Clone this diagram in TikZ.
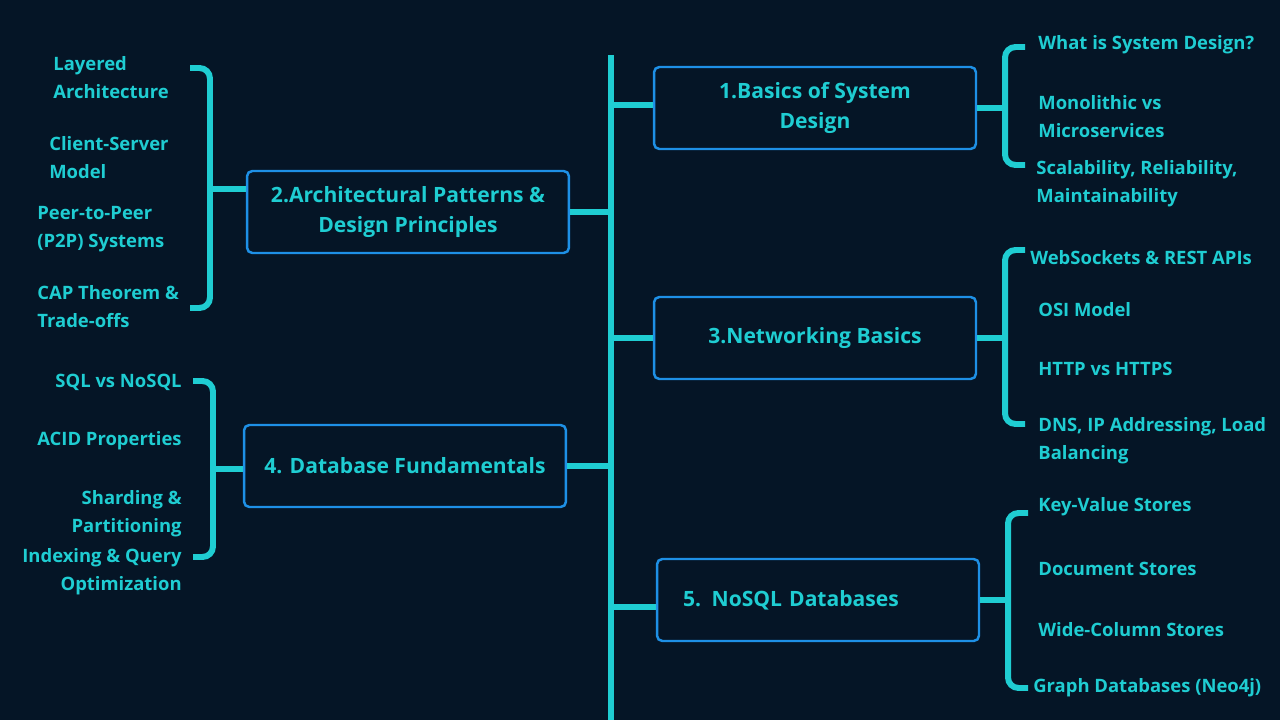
\documentclass[tikz,border=0pt]{standalone}
\usepackage{fontspec}
\setmainfont{Open Sans}
\definecolor{bgnavy}{HTML}{051526}
\definecolor{tealline}{HTML}{1FCDD2}
\definecolor{boxblue}{HTML}{1E90E6}
\tikzset{
  topic/.style={draw=boxblue, line width=1.4pt, rounded corners=3pt, fill=bgnavy,
    minimum width=6.44cm, minimum height=1.64cm, align=center, text=tealline,
    font=\bfseries\fontsize{12}{17}\selectfont},
  leaf/.style={text=tealline, font=\bfseries\fontsize{10.5}{16}\selectfont, inner sep=0pt},
  link/.style={tealline, line width=3.4pt},
  brace/.style={tealline, line width=3.4pt, rounded corners=6pt}
}
\begin{document}
\begin{tikzpicture}[x=0.02cm, y=-0.02cm]
  \fill[bgnavy] (0,0) rectangle (1280,720);
  % trunk
  \coordinate (top) at (611,55);
  \coordinate (bot) at (611,720);
  \draw[link] (top) -- (bot);

  % topic boxes
  \node[topic] (basics) at (815,108) {1.Basics of System\\Design};
  \node[topic] (arch) at (408,212) {2.Architectural Patterns \&\\Design Principles};
  \node[topic] (net) at (815,338) {3.Networking Basics};
  \node[topic] (db) at (405,466) {4. Database Fundamentals};
  \node[topic, text width=6cm, align=left] (nosql) at (818,600) {\hspace*{0.3cm}5. NoSQL Databases};

  % joints on trunk
  \foreach \b/\y in {basics/105, arch/212, net/338, db/466, nosql/607}
    \coordinate (j-\b) at (611,\y);
  \draw[link] (j-basics) -- (basics.west |- j-basics);
  \draw[link] (j-arch) -- (arch.east |- j-arch);
  \draw[link] (j-net) -- (net.west);
  \draw[link] (j-db) -- (db.east);
  \draw[link] (j-nosql) -- (nosql.west |- j-nosql);

  % right brackets
  \draw[brace] (1025,47) -- (1005,47) -- (1005,165) -- (1025,165);
  \coordinate (b1) at (1005,108);
  \draw[link] (basics.east |- b1) -- (b1);
  \draw[brace] (1025,250) -- (1005,250) -- (1005,424) -- (1025,424);
  \coordinate (b3) at (1005,338);
  \draw[link] (net.east) -- (b3);
  \draw[brace] (1028,513) -- (1008,513) -- (1008,688) -- (1028,688);
  \coordinate (b5) at (1008,600);
  \draw[link] (nosql.east |- b5) -- (b5);

  % left brackets
  \draw[brace] (190,68) -- (210,68) -- (210,308) -- (190,308);
  \coordinate (b2) at (210,189);
  \draw[link] (b2) -- (arch.west |- b2);
  \draw[brace] (193,381) -- (213,381) -- (213,557) -- (193,557);
  \coordinate (b4) at (213,469);
  \draw[link] (b4) -- (db.west |- b4);

  % leaves of 1
  \node[leaf, anchor=west] (l11) at (1038,45) {What is System Design?};
  \node[leaf, anchor=west, align=left] (l12) at (1038,117) {Monolithic vs\\Microservices};
  \node[leaf, anchor=west, align=left] (l13) at (1036,184) {Scalability, Reliability,\\Maintainability};
  % leaves of 2
  \node[leaf, anchor=west, align=left] (l21) at (53,78) {Layered\\Architecture};
  \node[leaf, anchor=west, align=left] (l22) at (49,158) {Client-Server\\Model};
  \node[leaf, anchor=west, align=left] (l23) at (37,229) {Peer-to-Peer\\(P2P) Systems};
  \node[leaf, anchor=west, align=left] (l24) at (37,307) {CAP Theorem \&\\Trade-offs};
  % leaves of 3
  \node[leaf, anchor=west] (l31) at (1030,258) {WebSockets \& REST APIs};
  \node[leaf, anchor=west] (l32) at (1038,310) {OSI Model};
  \node[leaf, anchor=west] (l33) at (1038,369) {HTTP vs HTTPS};
  \node[leaf, anchor=west, align=left] (l34) at (1038,441) {DNS, IP Addressing, Load\\Balancing};
  % leaves of 4
  \node[leaf, anchor=east] (l41) at (182,382) {SQL vs NoSQL};
  \node[leaf, anchor=east] (l42) at (182,441) {ACID Properties};
  \node[leaf, anchor=east, align=right] (l43) at (182,514) {Sharding \&\\Partitioning};
  \node[leaf, anchor=east, align=right] (l44) at (182,572) {Indexing \& Query\\Optimization};
  % leaves of 5
  \node[leaf, anchor=west] (l51) at (1038,507) {Key-Value Stores};
  \node[leaf, anchor=west] (l52) at (1038,569) {Document Stores};
  \node[leaf, anchor=west] (l53) at (1038,630) {Wide-Column Stores};
  \node[leaf, anchor=west] (l54) at (1033,688) {Graph Databases (Neo4j)};
\end{tikzpicture}
\end{document}
